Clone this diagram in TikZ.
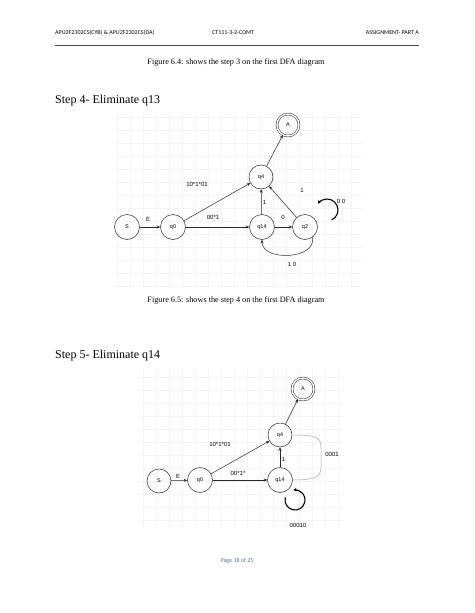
\documentclass[tikz,border=0pt]{standalone}
\usepackage{fontspec}
\setmainfont{Liberation Serif}
\newfontfamily\hdrfont{Carlito}
\newfontfamily\dfont{Liberation Sans}
\usetikzlibrary{arrows.meta,calc}
\definecolor{footblue}{RGB}{80,115,170}
\definecolor{edgec}{RGB}{40,40,40}
\begin{document}
\begin{tikzpicture}[x=1pt,y=1pt,
  st/.style={circle,draw=edgec,line width=0.5pt,minimum size=25pt,inner sep=0pt,font=\dfont\fontsize{5.5}{6}\selectfont},
  acc/.style={st,double,double distance=1.4pt,minimum size=22pt},
  ed/.style={draw=edgec,line width=0.5pt,-{Stealth[length=3.5pt,width=3pt]}},
  thickloop/.style={draw=black,line width=1.1pt,-{Stealth[length=3.5pt,width=3.5pt]}},
  lab/.style={font=\dfont\fontsize{6}{7}\selectfont,inner sep=0pt},
  hdr/.style={font=\hdrfont\fontsize{6}{7}\selectfont,inner sep=0pt},
  figcap/.style={font=\fontsize{8.2}{10}\selectfont,inner sep=0pt},
  stephd/.style={font=\fontsize{12}{14}\selectfont,inner sep=0pt,anchor=west},
  gridc/.style={draw=gray!9,line width=0.4pt}
]
\useasboundingbox (0,0) rectangle (474,-613);
\fill[white] (0,0) rectangle (474,-613);

% header
\node[hdr,anchor=west] (h1) at (55,-33) {APU2F2302CS(CYB) \& APU2F2302CS(DA)};
\node[hdr,anchor=west] (h2) at (212,-33) {CT111-3-2-COMT};
\node[hdr,anchor=east] (h3) at (419,-33) {ASSIGNMENT- PART A};
\coordinate (hl1) at (55,-45);
\coordinate (hl2) at (419,-45);
\draw[gray!60!black,line width=0.8pt] (hl1) -- (hl2);

% captions and headings
\node[figcap] (c1) at (236,-62) {Figure 6.4: shows the step 3 on the first DFA diagram};
\node[stephd] (s4) at (55,-101) {Step 4- Eliminate q13};
\node[figcap] (c2) at (236,-300) {Figure 6.5: shows the step 4 on the first DFA diagram};
\node[stephd] (s5) at (55,-356) {Step 5- Eliminate q14};

% grids
\draw[gridc,step=13pt] (113,-111) grid (362,-286);
\draw[gridc,step=13pt] (139,-367) grid (344,-529);

% ---------- diagram 1 ----------
\node[acc] (A1) at (288,-125) {A};
\node[st,minimum size=24pt] (q4a) at (261,-177) {q4};
\node[st] (Sa) at (127,-227) {S};
\node[st] (q0a) at (173,-227) {q0};
\node[st] (q14a) at (262,-227) {q14};
\node[st] (q2a) at (305,-227) {q2};

\draw[ed] (q4a) -- (A1);
\draw[ed] (Sa) -- (q0a);
\draw[ed] (q0a) -- (q4a);
\draw[ed] (q0a) -- (q14a);
\draw[ed] (q14a) -- (q4a);
\draw[ed] (q14a) -- (q2a);
\draw[ed] (q2a) -- (q4a);
\draw[ed] (q2a.-55) .. controls +(5,-22) and +(0,-22) .. (q14a.-90);
\coordinate (l2c) at (327,-210);
\draw[thickloop] (l2c) ++(-65:11) arc[start angle=-65,end angle=145,radius=11];

\node[lab] (t1) at (197,-184) {10*1*01};
\node[lab] (t2) at (213,-217) {00*1};
\node[lab] (t3) at (148,-219) {E};
\node[lab] (t4) at (264.5,-202) {1};
\node[lab] (t5) at (283,-217) {0};
\node[lab] (t6) at (302,-190) {1};
\node[lab] (t7) at (341,-201) {0 0};
\node[lab] (t8) at (292,-264) {1 0};

% ---------- diagram 2 ----------
\node[acc] (A2) at (303,-389) {A};
\node[st,minimum size=24pt] (q4b) at (280,-435) {q4};
\node[st,minimum size=24pt] (Sb) at (159,-481) {S};
\node[st] (q0b) at (200,-480) {q0};
\node[st] (q14b) at (280,-480) {q14};

\draw[ed] (q4b) -- (A2);
\draw[ed] (Sb) -- (q0b);
\draw[ed] (q0b) -- (q4b);
\draw[ed] (q0b) -- (q14b);
\draw[ed] (q14b) -- (q4b);
\draw[draw=gray!70,line width=0.5pt] (q4b.east) .. controls (316,-435) and (321,-437) .. (321,-448) -- (321,-468) .. controls (321,-478) and (312,-480) .. (q14b.east);
\coordinate (l14c) at (295,-500);
\draw[thickloop] (l14c) ++(165:10) arc[start angle=165,end angle=460,radius=10];

\node[lab] (u1) at (220,-444) {10*1*01};
\node[lab] (u2) at (238,-473) {00*1*};
\node[lab] (u3) at (178,-476) {E};
\node[lab] (u4) at (283.5,-459) {1};
\node[lab] (u5) at (332,-454) {0001};
\node[lab] (u6) at (298,-525) {00010};

% footer
\node[hdr,text=footblue] (pg) at (237,-561) {Page 18 of 25};
\end{tikzpicture}
\end{document}
